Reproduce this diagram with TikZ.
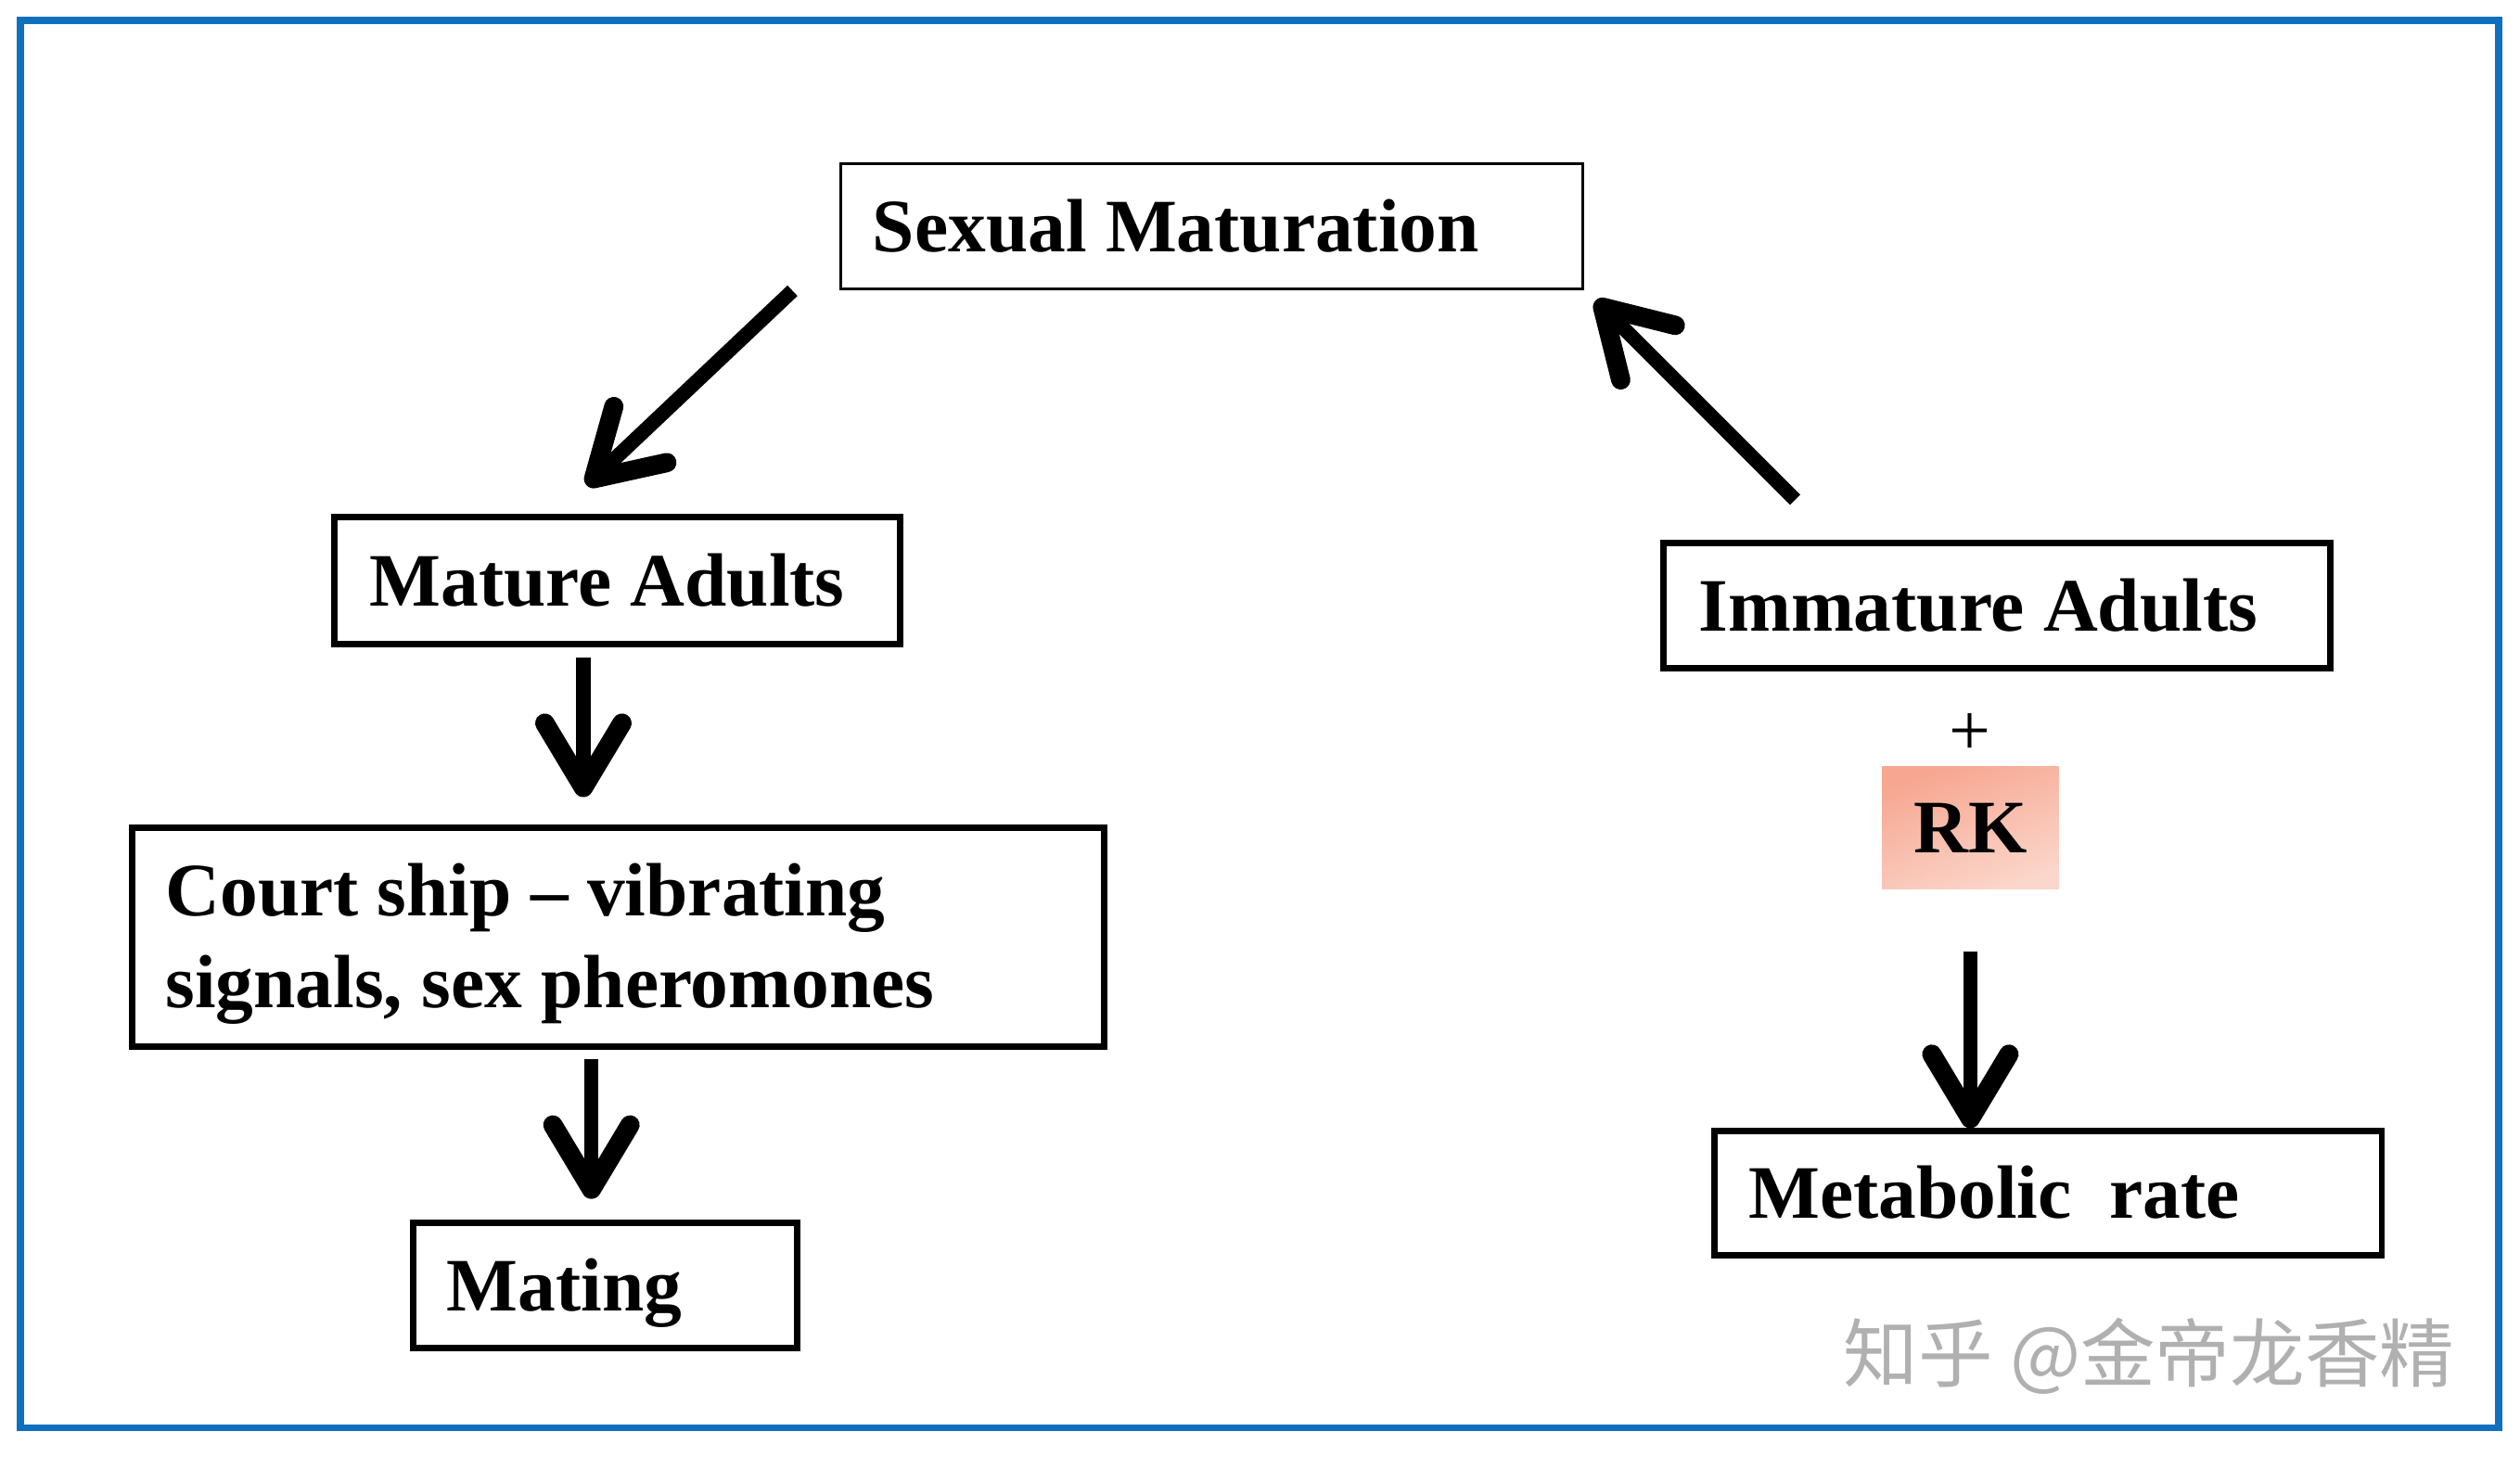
\documentclass[tikz,border=0pt]{standalone}
\usepackage{fontspec}
\setmainfont{Liberation Serif}
\newfontfamily\cjkfont{Noto Sans CJK SC}
\usetikzlibrary{arrows.meta,calc}
\definecolor{frameblue}{RGB}{16,112,192}
\definecolor{rkdark}{RGB}{246,166,145}
\definecolor{rklight}{RGB}{251,214,202}
\definecolor{wmgray}{RGB}{176,176,176}
\newcommand\myboxfont{\fontsize{47}{57}\selectfont\bfseries}
\newcommand\normalspaces{\spaceskip=0pt\relax\xspaceskip=0pt\relax}
\begin{document}
\begin{tikzpicture}[x=1pt,y=-1pt,
  box/.style={draw=black,line width=4pt,rectangle,inner ysep=0pt,
    font=\myboxfont,align=left,execute at begin node={\normalspaces},
    text height=31pt,text depth=0pt},
  flow/.style={line width=9pt,line cap=butt,
    -{Straight Barb[length=40pt,width=48pt,line width=12pt,line cap=round,line join=round]}},
]
\useasboundingbox (0,0) rectangle (1568,906.6);
\draw[frameblue,line width=4.5pt] (12.5,12.5) rectangle (1554.5,888.5);

\node[box,line width=1.8pt,minimum width=462pt,minimum height=78pt,
  text width=422pt,inner xsep=20pt] (sex) at (754,141) {Sexual Maturation};
\node[box,minimum width=352pt,minimum height=79pt,
  text width=308pt,inner xsep=22pt] (mature) at (384,361.5) {Mature Adults};
\node[box,minimum width=605pt,minimum height=136pt,
  text width=563pt,inner xsep=21pt,text height=31pt,text depth=57pt] (court) at (384.5,583)
  {Court ship -- vibrating\\signals, sex pheromones};
\node[box,minimum width=239pt,minimum height=78pt,
  text width=197pt,inner xsep=21pt] (mating) at (376.5,800) {Mating};
\node[box,minimum width=415pt,minimum height=78pt,
  text width=371pt,inner xsep=22pt] (imm) at (1242.5,377) {Immature Adults};
\node[box,minimum width=415pt,minimum height=77pt,
  text width=373pt,inner xsep=21pt] (metab) at (1274.5,742.5) {Metabolic\ \ rate};
\node[rectangle,inner sep=0pt,minimum width=110pt,minimum height=76pt,
  top color=rkdark,bottom color=rklight,shading angle=20,
  font=\myboxfont,text height=31pt,text depth=0pt] (rk) at (1226,515) {RK};
\node[inner sep=0pt,font=\fontsize{46}{46}\selectfont] (plus) at (1226,457) {+};

\draw[flow] ($(sex.south west)+(-29,0)$) -- ($(mature.north)+(-19,-18)$);
\draw[flow] ($(imm.north)+(-125.5,-25)$) -- ($(sex.south east)+(7,6)$);
\draw[flow] ($(mature.south)+(-21,6)$) -- ($(court.north)+(-21.5,-17)$);
\draw[flow] ($(court.south)+(-16.5,6)$) -- ($(mating.north)+(-8.5,-13)$);
\draw[flow] ($(rk.south)+(0,39)$) -- (rk.south |- metab.north);

\node[anchor=west,inner sep=0pt,text=wmgray,font=\cjkfont\fontsize{46.5}{46.5}\selectfont] (wm) at (1147,844) {知乎 @金帝龙香精};
\end{tikzpicture}
\end{document}
